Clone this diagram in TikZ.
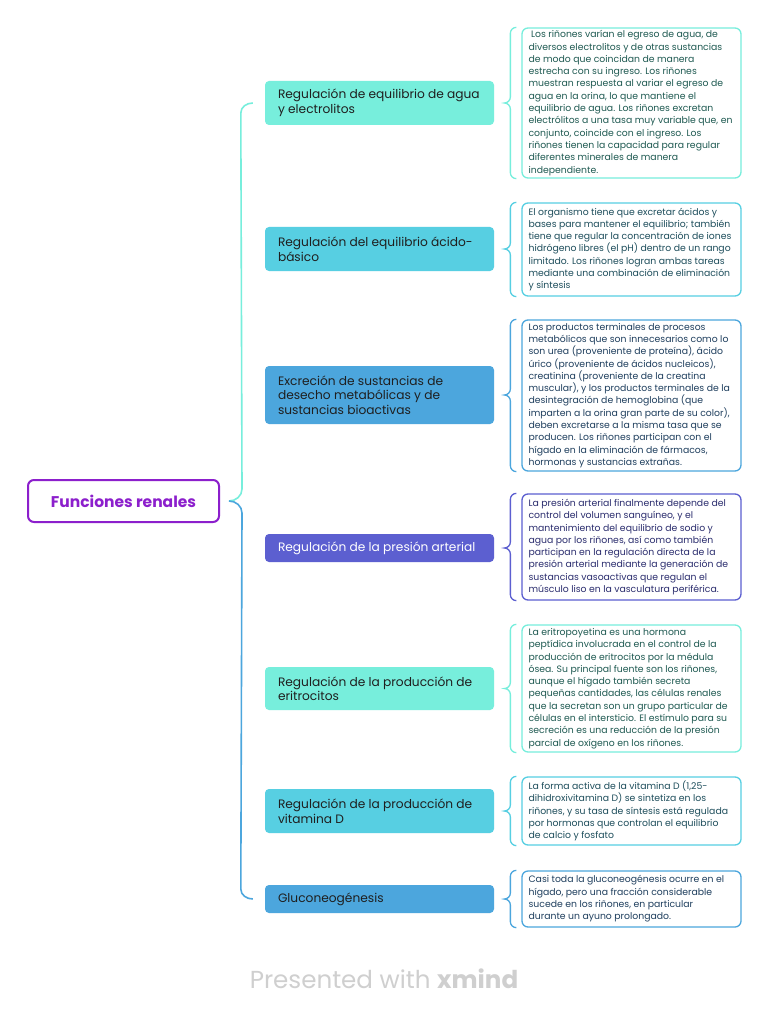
\documentclass[tikz,border=0pt]{standalone}
\usepackage{fontspec}
\setmainfont{Poppins}
\usetikzlibrary{calc}
\definecolor{cteal}{HTML}{77EEDC}
\definecolor{ccyan}{HTML}{57CFE2}
\definecolor{cblue}{HTML}{4CA6DD}
\definecolor{cindigo}{HTML}{5C5FD0}
\definecolor{cpurple}{HTML}{8C1FCC}
\definecolor{tteal}{HTML}{1F5A52}
\definecolor{tcyan}{HTML}{1E4E5C}
\definecolor{tblue}{HTML}{1F3F5E}
\definecolor{tindigo}{HTML}{2B2D6E}
\definecolor{cfoot}{HTML}{CFCFCF}
\tikzset{
  rootbox/.style={draw=cpurple, line width=2, rounded corners=6, fill=white, minimum width=191, minimum height=42, inner sep=0, text=cpurple, font=\fontsize{15.5}{18}\selectfont\bfseries},
  cbox/.style={rounded corners=4, minimum width=229, inner sep=0},
  ctext/.style={anchor=west, inner sep=0, align=left, text=black!88, font=\fontsize{12.2}{14.5}\selectfont},
  dbox/.style={rounded corners=6, line width=1.3, fill=white, minimum width=219, inner sep=0},
  dtext/.style={anchor=west, inner sep=0, align=left, font=\fontsize{9.3}{12.3}\selectfont},
  link/.style={line width=1.6}
}
\newcommand\descbrace[3]{%
  \draw[#3, line width=1.3]
    ($(#2.north west)+(-5,0)$) to[out=180,in=90] ($(#2.north west)+(-11,6)$)
    -- ($(#2.west |- #1.east)+(-11,-6)$) to[out=270,in=0] ($(#2.west |- #1.east)+(-17,0)$)
    to[out=0,in=90] ($(#2.west |- #1.east)+(-11,6)$)
    -- ($(#2.south west)+(-11,-6)$) to[out=270,in=180] ($(#2.south west)+(-5,0)$);
}
\begin{document}
\begin{tikzpicture}[x=1pt,y=-1pt]
\useasboundingbox (0,0) rectangle (768,1024);
\fill[white] (0,0) rectangle (768,1024);

% root
\node[rootbox] (root) at (123.5,501) {Funciones renales};

% children
\node[cbox, fill=cteal, minimum height=44] (c1) at (379.5,103) {};
\node[ctext] (c1t) at ($(c1.west)+(13,0)$) {Regulación de equilibrio de agua\\y electrolitos};
\node[cbox, fill=ccyan, minimum height=44] (c2) at (379.5,249) {};
\node[ctext] (c2t) at ($(c2.west)+(13,0)$) {Regulación del equilibrio ácido-\\básico};
\node[cbox, fill=cblue, minimum height=58] (c3) at (379.5,395) {};
\node[ctext] (c3t) at ($(c3.west)+(13,0)$) {Excreción de sustancias de\\desecho metabólicas y de\\sustancias bioactivas};
\node[cbox, fill=cindigo, minimum height=28] (c4) at (379.5,548) {};
\node[ctext, text=white] (c4t) at ($(c4.west)+(13,0)$) {Regulación de la presión arterial};
\node[cbox, fill=cteal, minimum height=43] (c5) at (379.5,688.5) {};
\node[ctext] (c5t) at ($(c5.west)+(13,0)$) {Regulación de la producción de\\eritrocitos};
\node[cbox, fill=ccyan, minimum height=44] (c6) at (379.5,811) {};
\node[ctext] (c6t) at ($(c6.west)+(13,0)$) {Regulación de la producción de\\vitamina D};
\node[cbox, fill=cblue, minimum height=28] (c7) at (379.5,899) {};
\node[ctext] (c7t) at ($(c7.west)+(13,0)$) {Gluconeogénesis};

% main brace
\coordinate (rc) at ($(root.east)+(9,0)$);
\draw[link, cteal] (rc) to[out=0,in=270] ($(rc)+(13,-12)$) -- ($(c1.west)+(-24,10)$) to[out=90,in=180] ($(c1.west)+(-12,0)$);
\draw[link, cblue] (rc) to[out=0,in=90] ($(rc)+(13,12)$) -- ($(c7.west)+(-24,-10)$) to[out=270,in=180] ($(c7.west)+(-12,0)$);

% descriptions
\node[dbox, draw=cteal, minimum height=150] (d1) at (631.5,103) {};
\node[dtext, text=tteal] (d1t) at ($(d1.west)+(7,0)$) {\hspace{2.5pt}Los riñones varían el egreso de agua, de\\diversos electrolitos y de otras sustancias\\de modo que coincidan de manera\\estrecha con su ingreso. Los riñones\\muestran respuesta al variar el egreso de\\agua en la orina, lo que mantiene el\\equilibrio de agua. Los riñones excretan\\electrólitos a una tasa muy variable que, en\\conjunto, coincide con el ingreso. Los\\riñones tienen la capacidad para regular\\diferentes minerales de manera\\independiente.};
\node[dbox, draw=ccyan, minimum height=93] (d2) at (631.5,249.5) {};
\node[dtext, text=tcyan] (d2t) at ($(d2.west)+(7,0)$) {El organismo tiene que excretar ácidos y\\bases para mantener el equilibrio; también\\tiene que regular la concentración de iones\\hidrógeno libres (el pH) dentro de un rango\\limitado. Los riñones logran ambas tareas\\mediante una combinación de eliminación\\y síntesis};
\node[dbox, draw=cblue, minimum height=151] (d3) at (631.5,395.5) {};
\node[dtext, text=tblue] (d3t) at ($(d3.west)+(7,0)$) {Los productos terminales de procesos\\metabólicos que son innecesarios como lo\\son urea (proveniente de proteína), ácido\\úrico (proveniente de ácidos nucleicos),\\creatinina (proveniente de la creatina\\muscular), y los productos terminales de la\\desintegración de hemoglobina (que\\imparten a la orina gran parte de su color),\\deben excretarse a la misma tasa que se\\producen. Los riñones participan con el\\hígado en la eliminación de fármacos,\\hormonas y sustancias extrañas.};
\node[dbox, draw=cindigo, minimum height=106] (d4) at (631.5,547) {};
\node[dtext, text=tindigo] (d4t) at ($(d4.west)+(7,0)$) {La presión arterial finalmente depende del\\control del volumen sanguíneo, y el\\mantenimiento del equilibrio de sodio y\\agua por los riñones, así como también\\participan en la regulación directa de la\\presión arterial mediante la generación de\\sustancias vasoactivas que regulan el\\músculo liso en la vasculatura periférica.};
\node[dbox, draw=cteal, minimum height=127] (d5) at (631.5,688.5) {};
\node[dtext, text=tteal] (d5t) at ($(d5.west)+(7,0)$) {La eritropoyetina es una hormona\\peptídica involucrada en el control de la\\producción de eritrocitos por la médula\\ósea. Su principal fuente son los riñones,\\aunque el hígado también secreta\\pequeñas cantidades, las células renales\\que la secretan son un grupo particular de\\células en el intersticio. El estímulo para su\\secreción es una reducción de la presión\\parcial de oxígeno en los riñones.};
\node[dbox, draw=ccyan, minimum height=68] (d6) at (631.5,811) {};
\node[dtext, text=tcyan] (d6t) at ($(d6.west)+(7,0)$) {La forma activa de la vitamina D (1,25-\\dihidroxivitamina D) se sintetiza en los\\riñones, y su tasa de síntesis está regulada\\por hormonas que controlan el equilibrio\\de calcio y fosfato};
\node[dbox, draw=cblue, minimum height=56] (d7) at (631.5,899) {};
\node[dtext, text=tblue] (d7t) at ($(d7.west)+(7,0)$) {Casi toda la gluconeogénesis ocurre en el\\hígado, pero una fracción considerable\\sucede en los riñones, en particular\\durante un ayuno prolongado.};

% braces to descriptions
\descbrace{c1}{d1}{cteal}
\descbrace{c2}{d2}{ccyan}
\descbrace{c3}{d3}{cblue}
\descbrace{c4}{d4}{cindigo}
\descbrace{c5}{d5}{cteal}
\descbrace{c6}{d6}{ccyan}
\descbrace{c7}{d7}{cblue}

% footer
\node[text=cfoot, font=\fontsize{24.6}{30}\selectfont] (foot) at (384,979) {Presented with \textbf{xmind}};
\end{tikzpicture}
\end{document}
